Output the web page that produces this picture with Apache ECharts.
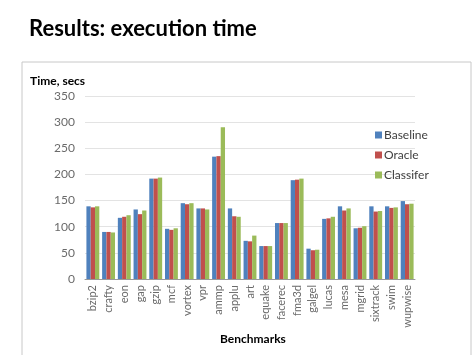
<!DOCTYPE html>
<html><head><meta charset="utf-8">
<script src="https://cdn.jsdelivr.net/npm/echarts@6/dist/echarts.min.js"></script>
<style>html,body{margin:0;padding:0;background:#fff}#c{width:474px;height:355px}</style>
</head><body><div id="c"></div>
<script>
const categories = ["bzip2","crafty","eon","gap","gzip","mcf","vortex","vpr","ammp","applu","art","equake","facerec","fma3d","galgel","lucas","mesa","mgrid","sixtrack","swim","wupwise"];
const baseline = [139,90,117,133,192,96,145,135,234,135,73,63,107,189,58,115,139,97,139,139,149];
const oracle   = [137,90,119,124,192,94,143,135,235,120,72,63,107,190,55,116,131,98,129,136,143];
const classifer= [139,89,122,131,194,97,145,133,290,119,83,63,107,192,56,119,135,101,130,137,144];
const yTicks = [0,50,100,150,200,250,300,350];

const chart = echarts.init(document.getElementById('c'), null, {renderer:'canvas'});
const mk = (name, data, color) => ({name, type:'bar', data, itemStyle:{color}, barGap:'0%', barCategoryGap:'18%'});
chart.setOption({
  animation:false,
  graphic:[
    {type:'rect', shape:{x:22,y:62,width:449,height:300}, style:{fill:'none', stroke:'#c8c8c8', lineWidth:1}},
    {type:'text', left:29, top:18, style:{text:'Results: execution time', font:'bold 22px Lato, "Open Sans", sans-serif', fill:'#000'}},
    {type:'text', left:30, top:75, style:{text:'Time, secs', font:'bold 12px Lato, "Open Sans", sans-serif', fill:'#000'}},
    {type:'text', left:220, top:333, style:{text:'Benchmarks', font:'bold 12px Lato, "Open Sans", sans-serif', fill:'#000'}}
  ],
  legend:{
    orient:'vertical', left:370, top:124, itemWidth:7, itemHeight:7, itemGap:8,
    icon:'rect',
    textStyle:{fontFamily:'Lato, "Open Sans", sans-serif', fontSize:12, color:'#404040', padding:[0,0,0,-3]},
    data:['Baseline','Oracle','Classifer']
  },
  grid:{left:85, right:59, top:96, bottom:76, containLabel:false},
  xAxis:{
    type:'category', data:categories,
    axisLine:{lineStyle:{color:'#9a9a9a'}},
    axisTick:{show:false},
    axisLabel:{rotate:90, interval:0, margin:6, color:'#6a6a6a', fontSize:11, fontFamily:'Lato, "Open Sans", sans-serif'}
  },
  yAxis:{
    type:'value', min:0, max:350, interval:50,
    axisLine:{show:false}, axisTick:{show:false},
    splitLine:{lineStyle:{color:'#e3e3e3'}},
    axisLabel:{margin:10, color:'#6a6a6a', fontSize:12, fontFamily:'Lato, "Open Sans", sans-serif',
      formatter:v => yTicks.includes(v) ? String(v) : ''}
  },
  series:[mk('Baseline',baseline,'#4F81BD'), mk('Oracle',oracle,'#C0504D'), mk('Classifer',classifer,'#9BBB59')]
});
</script></body></html>
